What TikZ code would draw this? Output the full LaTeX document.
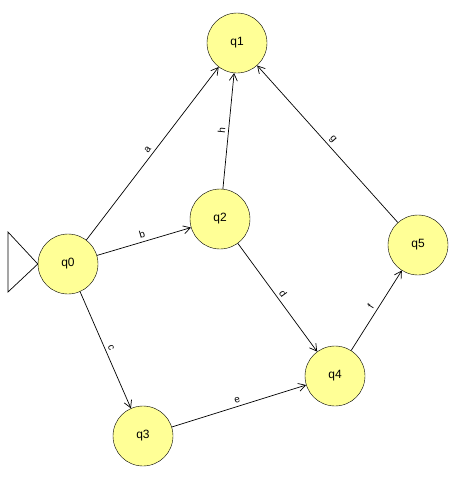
\documentclass[tikz,border=0pt]{standalone}
\usepackage{fontspec}
\setmainfont{Liberation Sans}
\usetikzlibrary{arrows.meta}
\begin{document}
\begin{tikzpicture}[x=1pt,y=-1pt,
 st/.style={circle,draw=black,fill={rgb,255:red,255;green,255;blue,150},minimum size=60pt,inner sep=0pt,font=\large},
 tr/.style={draw,-{Straight Barb[length=7pt,width=8pt]},line width=0.7pt},
 lb/.style={midway,sloped,font=\normalsize,inner sep=3pt}]
\useasboundingbox (0,0) rectangle (474,477);
\node[st] (q0) at (68,264) {q0};
\node[st] (q1) at (237,43) {q1};
\node[st] (q2) at (220,219) {q2};
\node[st] (q3) at (143,436) {q3};
\node[st] (q4) at (335,376) {q4};
\node[st] (q5) at (418,245) {q5};
\coordinate (s1) at (8,232);
\coordinate (s2) at (8,292);
\draw[line width=0.7pt] (s1) -- (q0.west) -- (s2) -- cycle;
\draw[tr] (q0) -- node[lb,above]{a} (q1);
\draw[tr] (q0) -- node[lb,above]{b} (q2);
\draw[tr] (q0) -- node[lb,above]{c} (q3);
\draw[tr] (q2) -- node[lb,above]{h} (q1);
\draw[tr] (q2) -- node[lb,above]{d} (q4);
\draw[tr] (q3) -- node[lb,above]{e} (q4);
\draw[tr] (q4) -- node[lb,above]{f} (q5);
\draw[tr] (q5) -- node[lb,above]{g} (q1);
\end{tikzpicture}
\end{document}
